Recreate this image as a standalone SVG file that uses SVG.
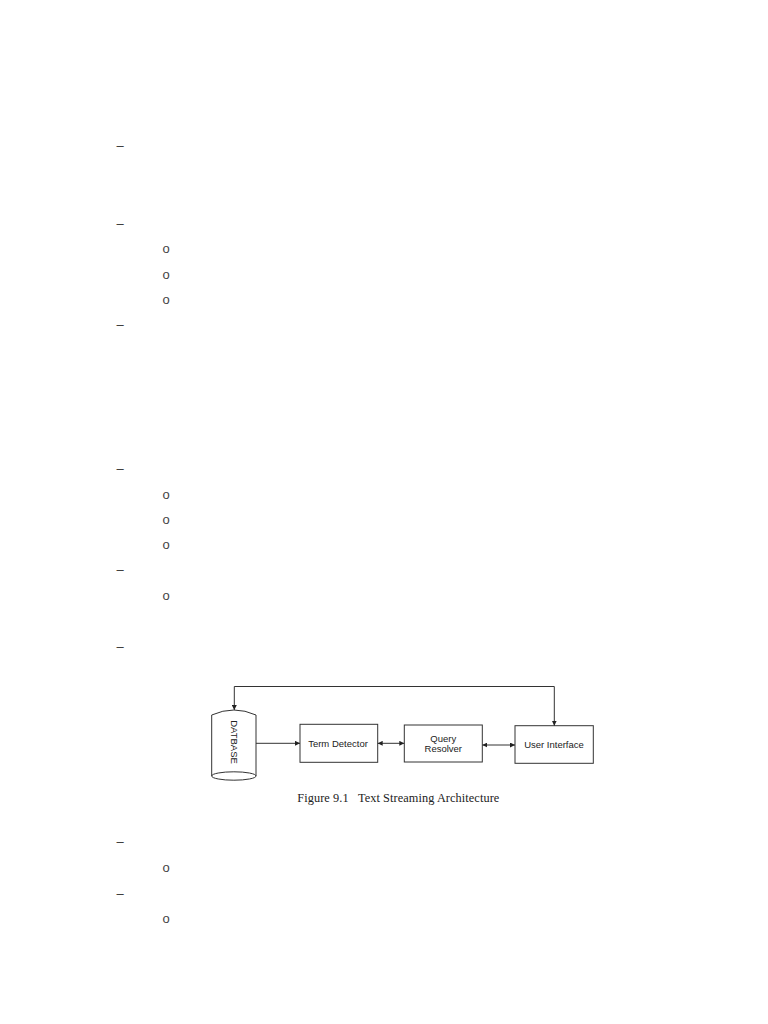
<svg xmlns="http://www.w3.org/2000/svg" width="768" height="1024" viewBox="0 0 768 1024">
<style>
.dash{font-family:"Liberation Sans",Arial,sans-serif;font-size:13px;fill:#333}
.circ{font-family:"Liberation Sans",Arial,sans-serif;font-size:13px;fill:#444}
.box{fill:#fff;stroke:#333;stroke-width:1}
.lbl{font-family:"Liberation Sans",Arial,sans-serif;font-size:9.5px;fill:#222;text-anchor:middle}
.conn{fill:none;stroke:#333;stroke-width:1}
.cap{font-family:"Liberation Serif","Times New Roman",serif;font-size:12.3px;fill:#222}
</style>
<defs>
<marker id="ah" viewBox="0 0 10 10" refX="10" refY="5" markerWidth="5" markerHeight="5" orient="auto-start-reverse" markerUnits="userSpaceOnUse">
<path d="M0,0 L10,5 L0,10 z" fill="#222"/>
</marker>
</defs>
<rect width="768" height="1024" fill="#fff"/>
<g id="bullets">
<text class="dash" x="116.5" y="150.3">–</text>
<text class="dash" x="116.5" y="227.6">–</text>
<text class="circ" x="162.6" y="253.4">o</text>
<text class="circ" x="162.6" y="279.1">o</text>
<text class="circ" x="162.6" y="304.1">o</text>
<text class="dash" x="116.5" y="329.3">–</text>
<text class="dash" x="116.5" y="472.9">–</text>
<text class="circ" x="162.6" y="499.1">o</text>
<text class="circ" x="162.6" y="524.4">o</text>
<text class="circ" x="162.6" y="549.4">o</text>
<text class="dash" x="116.5" y="574.3">–</text>
<text class="circ" x="162.6" y="600.1">o</text>
<text class="dash" x="116.5" y="650.9">–</text>
<text class="dash" x="116.5" y="845.9">–</text>
<text class="circ" x="162.6" y="872.4">o</text>
<text class="dash" x="116.5" y="897.6">–</text>
<text class="circ" x="162.6" y="923.4">o</text>
</g>
<g id="database">
<path class="box" d="M211.7,715 Q234,705 256,715 L256,776 A22.15,4.2 0 0 1 211.7,776 Z"/>
<path class="conn" d="M211.7,776 A22.15,4.2 0 0 1 256,776"/>
<text class="lbl" font-size="8.5" transform="translate(231,742) rotate(90)">DATBASE</text>
</g>
<g id="term-detector">
<rect class="box" x="300" y="724.3" width="77.7" height="38"/>
<text class="lbl" x="338" y="746.6">Term Detector</text>
</g>
<g id="query-resolver">
<rect class="box" x="404.3" y="725" width="78" height="37"/>
<text class="lbl" x="443.3" y="741.5">Query</text>
<text class="lbl" x="443.3" y="752.3">Resolver</text>
</g>
<g id="user-interface">
<rect class="box" x="515" y="725.7" width="78.3" height="37.6"/>
<text class="lbl" x="554" y="748.3">User Interface</text>
</g>
<g id="connectors">
<path class="conn" d="M554.3,725.7 L554.3,686.5 L234.3,686.5 L234.3,710" marker-start="url(#ah)" marker-end="url(#ah)"/>
<path class="conn" d="M256,743.3 L300,743.3" marker-end="url(#ah)"/>
<path class="conn" d="M377.7,743.3 L404.3,743.3" marker-start="url(#ah)" marker-end="url(#ah)"/>
<path class="conn" d="M482.3,745 L515,745" marker-start="url(#ah)" marker-end="url(#ah)"/>
</g>
<text class="cap" x="297.3" y="802.3" textLength="202" xml:space="preserve">Figure 9.1   Text Streaming Architecture</text>
</svg>
